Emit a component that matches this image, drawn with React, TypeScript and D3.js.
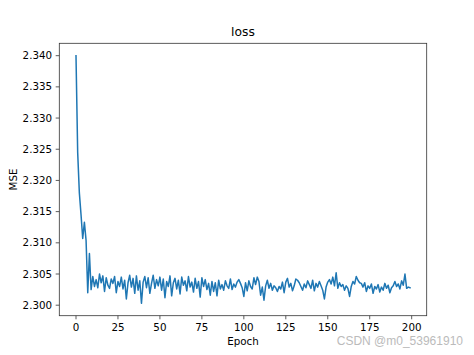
import React from "react";
import * as d3 from "d3";

const epochs: number[] = Array.from({ length: 200 }, (_, i) => i);
const loss: number[] = [
  2.3400, 2.3245, 2.3180, 2.3145, 2.3107, 2.3133, 2.3104, 2.3020, 2.3083, 2.3025,
  2.3046, 2.3030, 2.3041, 2.3028, 2.3050, 2.3036, 2.3047, 2.3022, 2.3044, 2.3032,
  2.3027, 2.3042, 2.3035, 2.3046, 2.3020, 2.3038, 2.3030, 2.3045, 2.3026, 2.3040,
  2.3010, 2.3036, 2.3048, 2.3029, 2.3043, 2.3019, 2.3047, 2.3024, 2.3039, 2.3003,
  2.3037, 2.3046, 2.3028, 2.3044, 2.3019, 2.3035, 2.3048, 2.3027, 2.3041, 2.3031,
  2.3045, 2.3024, 2.3042, 2.3012, 2.3038, 2.3030, 2.3047, 2.3015, 2.3036, 2.3043,
  2.3026, 2.3040, 2.3018, 2.3045, 2.3032, 2.3039, 2.3023, 2.3046, 2.3029, 2.3037,
  2.3021, 2.3043, 2.3027, 2.3038, 2.3013, 2.3044, 2.3030, 2.3041, 2.3025, 2.3035,
  2.3016, 2.3038, 2.3022, 2.3036, 2.3015, 2.3040, 2.3026, 2.3033, 2.3024, 2.3039,
  2.3031, 2.3027, 2.3042, 2.3025, 2.3034, 2.3029, 2.3037, 2.3041, 2.3035, 2.3028,
  2.3014, 2.3036, 2.3023, 2.3039, 2.3030, 2.3026, 2.3044, 2.3033, 2.3045, 2.3038,
  2.3016, 2.3029, 2.3008, 2.3031, 2.3040, 2.3027, 2.3035, 2.3024, 2.3031, 2.3028,
  2.3022, 2.3030, 2.3026, 2.3037, 2.3020, 2.3037, 2.3043, 2.3029, 2.3035, 2.3023,
  2.3031, 2.3042, 2.3040, 2.3036, 2.3030, 2.3024, 2.3034, 2.3028, 2.3039, 2.3033,
  2.3027, 2.3040, 2.3023, 2.3035, 2.3029, 2.3038, 2.3031, 2.3024, 2.3010, 2.3029,
  2.3037, 2.3041, 2.3034, 2.3045, 2.3031, 2.3052, 2.3027, 2.3036, 2.3030, 2.3033,
  2.3024, 2.3031, 2.3027, 2.3014, 2.3030, 2.3038, 2.3034, 2.3046, 2.3040, 2.3036,
  2.3035, 2.3029, 2.3036, 2.3022, 2.3031, 2.3027, 2.3034, 2.3019, 2.3030, 2.3026,
  2.3033, 2.3021, 2.3029, 2.3024, 2.3035, 2.3027, 2.3032, 2.3020, 2.3028, 2.3031,
  2.3038, 2.3030, 2.3034, 2.3026, 2.3039, 2.3032, 2.3050, 2.3027, 2.3029, 2.3028,
];
const yTicks: number[] = [2.300, 2.305, 2.310, 2.315, 2.320, 2.325, 2.330, 2.335, 2.340];
const xTicks: number[] = [0, 25, 50, 75, 100, 125, 150, 175, 200];

const W = 474, H = 355;
const L = 59.3, R = 426.7, T = 43.3, B = 315.7;
const FONT = "DejaVu Sans, sans-serif";

export default function App() {
  const xMin = d3.min(epochs)!, xMax = d3.max(epochs)!;
  const xPad = (xMax - xMin) * 0.05;
  const x = d3.scaleLinear().domain([xMin - xPad, xMax + xPad]).range([L, R]);
  const yMin = d3.min(loss)!, yMax = d3.max(loss)!;
  const yPad = (yMax - yMin) * 0.05;
  const y = d3.scaleLinear().domain([yMin - yPad, yMax + yPad]).range([B, T]);
  const line = d3.line<number>().x((_, i) => x(epochs[i])).y((d) => y(d));
  const tick = 3.6;
  return (
    <svg width={W} height={H} style={{ position: "absolute", left: 0, top: 0, background: "#fff" }} fontFamily={FONT}>
      <rect x={0} y={0} width={W} height={H} fill="#fff" />
      <text x={(L + R) / 2} y={36} textAnchor="middle" fontSize={12.3} fill="#000">loss</text>
      <path d={line(loss) || ""} fill="none" stroke="#1f77b4" strokeWidth={1.5} strokeLinejoin="round" strokeLinecap="square" />
      <rect x={L} y={T} width={R - L} height={B - T} fill="none" stroke="#333" strokeWidth={0.8} />
      {yTicks.map((t) => (
        <g key={"y" + t}>
          <line x1={L - tick} x2={L} y1={y(t)} y2={y(t)} stroke="#333" strokeWidth={0.8} />
          <text x={L - tick - 3.6} y={y(t)} dy="0.35em" textAnchor="end" fontSize={10.3} fill="#000">{t.toFixed(3)}</text>
        </g>
      ))}
      {xTicks.map((t) => (
        <g key={"x" + t}>
          <line x1={x(t)} x2={x(t)} y1={B} y2={B + tick} stroke="#333" strokeWidth={0.8} />
          <text x={x(t)} y={B + tick + 3.6} dy="0.8em" textAnchor="middle" fontSize={10.3} fill="#000">{t}</text>
        </g>
      ))}
      <text x={(L + R) / 2} y={345} textAnchor="middle" fontSize={10.3} fill="#000">Epoch</text>
      <text transform={`translate(17,${(T + B) / 2}) rotate(-90)`} textAnchor="middle" fontSize={10.3} fill="#000">MSE</text>
      <text x={463} y={345} textAnchor="end" fontSize={12} fill="#bbb" fontFamily="Liberation Sans, Arial, sans-serif">CSDN @m0_53961910</text>
    </svg>
  );
}
